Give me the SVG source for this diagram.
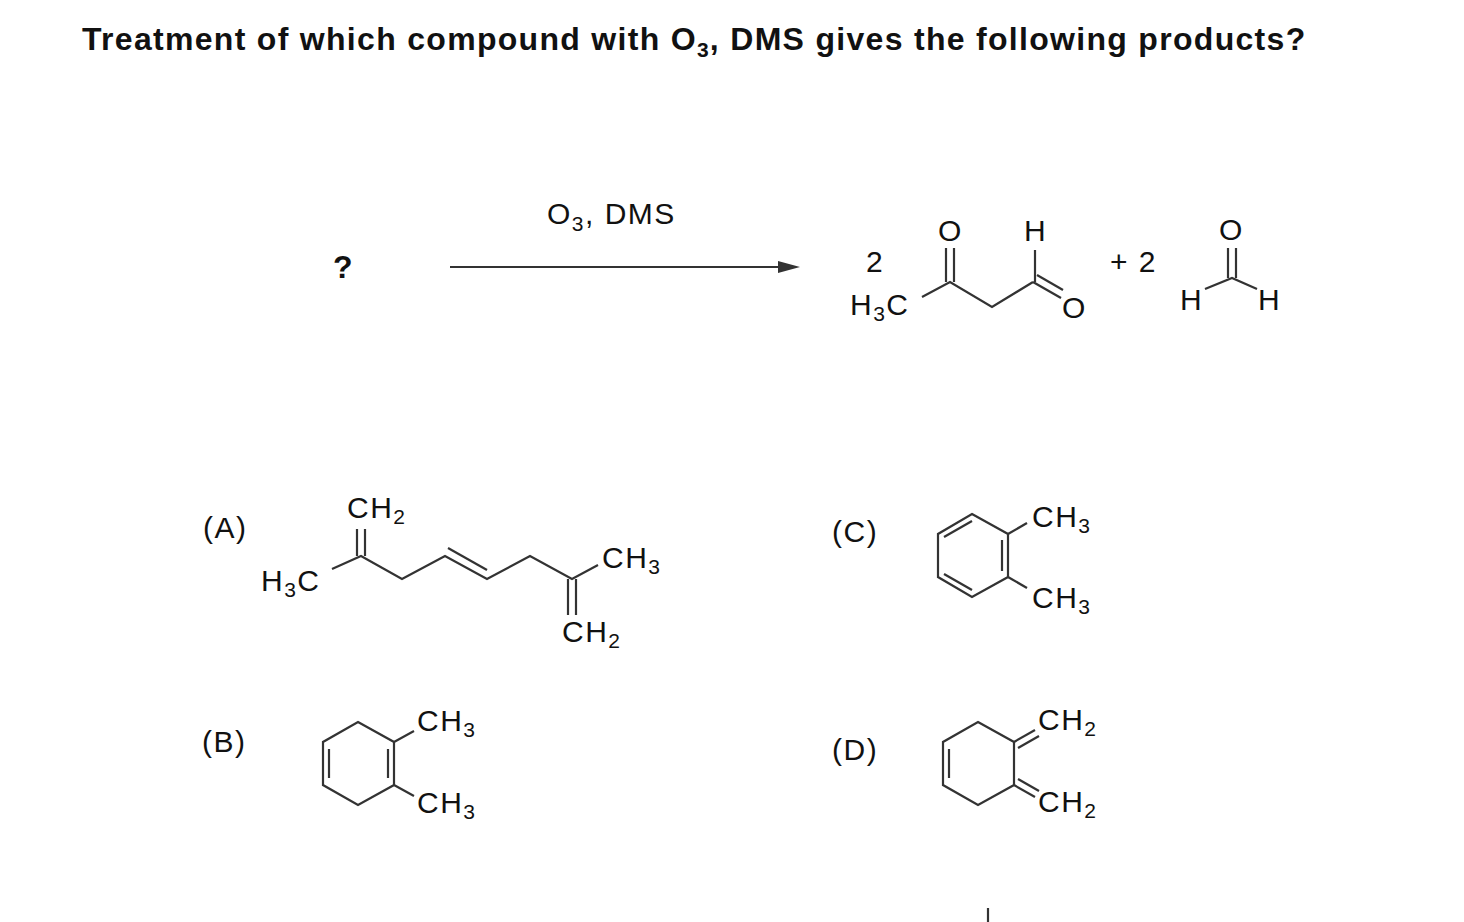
<svg xmlns="http://www.w3.org/2000/svg" width="1464" height="922" viewBox="0 0 1464 922">
<style>
text{font-family:"Liberation Sans",Arial,sans-serif;font-size:30px;letter-spacing:1.5px;fill:#111}
.t{font-weight:bold;font-size:32px;letter-spacing:1.3px}
.s{font-size:21px}
line,polyline,polygon{stroke:#333;stroke-width:2.2;fill:none}
</style>
<rect width="1464" height="922" fill="#fff"/>
<text class="t" x="82" y="50">Treatment of which compound with O<tspan class="s" dy="7" font-weight="bold">3</tspan><tspan dy="-7">, DMS gives the following products?</tspan></text>
<text class="t" x="333" y="278">?</text>
<text x="547" y="224" font-size="32">O<tspan class="s" dy="7">3</tspan><tspan dy="-7">, DMS</tspan></text>
<g id="connectors">
<line x1="450" y1="267" x2="785" y2="267"/>
<polygon points="800,267 778,261 778,273" style="fill:#333;stroke:none"/>
</g>
<g id="product1">
<text x="866" y="272">2</text>
<text x="850" y="315">H<tspan class="s" dy="6">3</tspan><tspan dy="-6">C</tspan></text>
<polyline points="922,297 950,282 992,307 1033,282"/>
<line x1="946" y1="282" x2="946" y2="248"/><line x1="954" y1="282" x2="954" y2="248"/>
<text x="938" y="241">O</text>
<line x1="1035" y1="282" x2="1035" y2="250"/>
<text x="1024" y="241">H</text>
<line x1="1033" y1="282" x2="1061" y2="298"/><line x1="1037" y1="275" x2="1063" y2="290"/>
<text x="1062" y="318">O</text>
</g>
<text x="1110" y="272">+ 2</text>
<g id="product2">
<line x1="1228" y1="278" x2="1228" y2="248"/><line x1="1236" y1="278" x2="1236" y2="248"/>
<text x="1219" y="240">O</text>
<polyline points="1205,289 1232,278 1257,289"/>
<text x="1180" y="310">H</text>
<text x="1258" y="310">H</text>
</g>
<g id="A">
<text x="203" y="538">(A)</text>
<text x="261" y="591">H<tspan class="s" dy="6">3</tspan><tspan dy="-6">C</tspan></text>
<polyline points="332,569 361,556 402,579 445,556 487,579 530,556 572,579 598,565"/>
<line x1="357" y1="556" x2="357" y2="529"/><line x1="365" y1="556" x2="365" y2="529"/>
<text x="347" y="518">CH<tspan class="s" dy="6">2</tspan></text>
<line x1="448" y1="548" x2="487" y2="570"/>
<line x1="568" y1="579" x2="568" y2="615"/><line x1="576" y1="579" x2="576" y2="615"/>
<text x="562" y="642">CH<tspan class="s" dy="6">2</tspan></text>
<text x="602" y="568">CH<tspan class="s" dy="6">3</tspan></text>
</g>
<g id="B">
<text x="202" y="752">(B)</text>
<polygon points="358,722 394,742 394,785 358,805 323,785 323,742"/>
<line x1="329" y1="749" x2="329" y2="778"/><line x1="388" y1="749" x2="388" y2="778"/>
<line x1="394" y1="742" x2="414" y2="731"/><line x1="394" y1="785" x2="414" y2="796"/>
<text x="417" y="731">CH<tspan class="s" dy="6">3</tspan></text>
<text x="417" y="813">CH<tspan class="s" dy="6">3</tspan></text>
</g>
<g id="C">
<text x="832" y="542">(C)</text>
<polygon points="972,514 1008,534 1008,577 972,597 938,577 938,534"/>
<line x1="972" y1="521" x2="944" y2="537"/><line x1="1002" y1="540" x2="1002" y2="571"/><line x1="972" y1="590" x2="944" y2="574"/>
<line x1="1008" y1="534" x2="1027" y2="523"/><line x1="1008" y1="577" x2="1027" y2="588"/>
<text x="1032" y="527">CH<tspan class="s" dy="6">3</tspan></text>
<text x="1032" y="608">CH<tspan class="s" dy="6">3</tspan></text>
</g>
<g id="D">
<text x="832" y="760">(D)</text>
<polygon points="978,722 1014,742 1014,785 978,805 943,785 943,742"/>
<line x1="949" y1="749" x2="949" y2="778"/>
<line x1="1014" y1="742" x2="1035" y2="730"/><line x1="1018" y1="748" x2="1039" y2="736"/>
<line x1="1014" y1="785" x2="1035" y2="797"/><line x1="1018" y1="779" x2="1039" y2="791"/>
<text x="1038" y="730">CH<tspan class="s" dy="6">2</tspan></text>
<text x="1038" y="812">CH<tspan class="s" dy="6">2</tspan></text>
</g>
<line x1="988" y1="908" x2="988" y2="922" stroke="#999" stroke-width="1"/>
</svg>
